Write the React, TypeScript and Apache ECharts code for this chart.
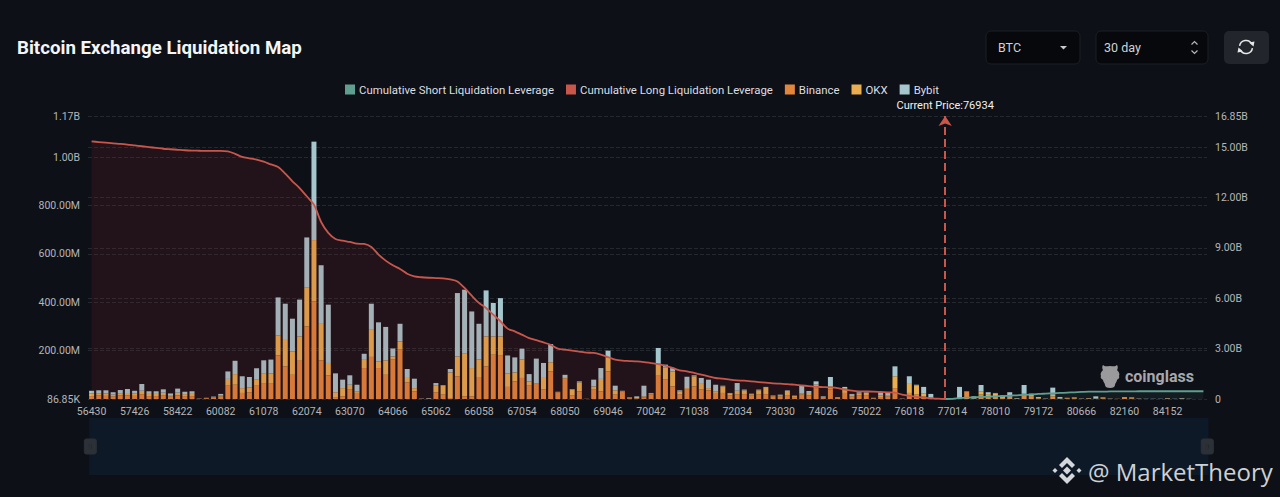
import React, { useEffect, useRef } from "react";
import * as echarts from "echarts";

const tickLabels = [56430, 57426, 58422, 60082, 61078, 62074, 63070, 64066, 65062, 66058, 67054, 68050, 69046, 70042, 71038, 72034, 73030, 74026, 75022, 76018, 77014, 78010, 79172, 80666, 82160, 84152];
const priceStep = 166;
const currentPriceIndex = 119;

// values in millions
const binance = [
  12,14,13,10,14,14,13,20,12,12,
  16,10,15,12,12,1,3,5,10,55,
  59,25,28,55,66,66,180,135,100,158,
  300,404,160,98,8,11,41,25,128,174,
  128,100,163,204,69,32,1,1,28,18,
  4,94,11,11,91,135,183,179,50,73,
  87,55,63,39,114,28,84,14,32,1,
  41,32,114,18,30,3,2,7,20,96,
  80,52,18,41,52,39,36,25,25,14,
  18,20,14,18,20,10,10,16,8,18,
  14,45,4,39,4,25,10,14,16,2,
  8,10,45,1,25,18,11,4,0,0,
  1,2,30,1,18,10,12,4,5,1,
  18,12,2,1,11,1,2,3,1,2,
  1,3,1,1,4,3,1,0,0,0,
  2,0,1,0,0,0,
];
const okx = [
  10,10,10,8,10,11,9,14,9,9,
  10,6,11,8,9,0,1,2,5,28,
  44,20,20,25,41,39,82,113,97,101,
  160,253,154,51,20,34,18,7,37,115,
  28,60,13,34,18,13,0,1,27,38,
  106,82,176,117,72,124,76,80,55,37,
  76,18,3,48,38,1,3,25,37,0,
  11,51,58,18,2,2,2,4,4,50,
  51,62,14,4,42,27,9,7,27,10,
  16,15,6,18,26,4,6,18,4,4,
  11,15,3,13,2,19,7,8,10,2,
  6,6,49,0,41,37,11,2,0,0,
  1,0,2,1,14,10,10,4,5,1,
  4,8,2,0,7,1,2,3,0,1,
  1,3,0,0,3,3,0,0,0,0,
  1,0,1,0,0,0,
];
const bybit = [
  12,12,13,10,13,16,12,28,11,11,
  14,7,17,10,11,1,1,3,6,31,
  55,49,43,47,53,58,158,146,135,152,
  208,407,239,241,78,35,39,27,22,105,
  161,138,33,73,37,39,1,2,11,2,
  14,262,265,234,148,190,138,158,75,62,
  45,30,101,62,75,1,13,2,4,0,
  28,45,28,19,2,2,7,44,1,65,
  11,14,4,47,4,21,35,27,3,1,
  32,4,2,3,4,1,2,2,2,33,
  8,13,4,39,2,6,4,6,2,1,
  14,9,41,1,28,4,28,15,1,1,
  1,48,0,9,26,8,3,6,18,2,
  36,2,4,1,29,6,1,1,1,1,
  9,1,1,0,1,1,1,1,1,1,
  1,1,2,1,0,0,
];
// values in billions
const longLeverage: (number | null)[] = [
  15.34,15.3,15.26,15.22,15.19,15.15,15.1,15.05,15.0,14.95,
  14.9,14.87,14.84,14.81,14.79,14.78,14.77,14.77,14.77,14.75,
  14.6,14.41,14.33,14.25,14.13,13.97,13.82,13.42,12.96,12.56,
  12.07,11.57,10.54,9.89,9.53,9.43,9.35,9.25,9.23,9.05,
  8.6,8.24,7.96,7.74,7.46,7.3,7.25,7.22,7.2,7.18,
  7.12,7.0,6.61,6.15,5.72,5.42,5.02,4.63,4.19,4.03,
  3.83,3.63,3.51,3.37,3.22,3.0,2.94,2.88,2.82,2.76,
  2.74,2.64,2.5,2.34,2.28,2.26,2.24,2.2,2.14,2.08,
  1.98,1.85,1.71,1.65,1.55,1.45,1.35,1.25,1.21,1.15,
  1.11,1.09,1.05,1.01,0.97,0.93,0.91,0.89,0.85,0.81,
  0.77,0.73,0.71,0.69,0.65,0.56,0.5,0.46,0.45,0.44,
  0.42,0.4,0.38,0.26,0.18,0.12,0.08,0.04,0.02,0,
  null,null,null,null,null,null,null,null,null,null,
  null,null,null,null,null,null,null,null,null,null,
  null,null,null,null,null,null,null,null,null,null,
  null,null,null,null,null,null,
];
const shortLeverage: (number | null)[] = [
  ...new Array(119).fill(null),
  0,0.01,0.05,0.08,0.1,0.12,0.14,0.16,0.18,0.2,
  0.22,0.24,0.27,0.3,0.32,0.34,0.36,0.38,0.4,0.42,
  0.44,0.44,0.44,0.45,0.45,0.45,0.45,0.46,0.46,0.46,
  0.46,0.46,0.46,0.46,0.46,0.46,0.46,
];

const categories: string[] = [];
tickLabels.forEach((t) => {
  for (let k = 0; k < 6; k++) categories.push(String(t + k * priceStep));
});

const RED = "#c9564b";
const GREEN = "#5f9f90";

const M = (a: number[]) => a.map((v) => v * 1e6);
const B = (a: (number | null)[]) => a.map((v) => (v == null ? null : v * 1e9));

const fmtLeft = (v: number) =>
  v === 0 ? "86.85K" : v >= 1e9 ? (v / 1e9).toFixed(2) + "B" : (v / 1e6).toFixed(2) + "M";
const fmtRight = (v: number) => (v === 0 ? "0" : (v / 1e9).toFixed(2) + "B");

const FONT = "Roboto, sans-serif";

echarts.graphic.registerShape(
  "coinglassLogo",
  echarts.graphic.extendPath(
    "M3 1C5 3 7 2 10 2C13 2 15 3 17 1C18 2 18 5 17 6C19 8 20 10 19 12C20 14 18 15 17 16C17 18 15 19 15 21C15 23 13 24 10 24C7 24 5 23 5 21C5 19 3 18 3 16C2 15 0 14 1 12C0 10 1 8 3 6C2 5 2 2 3 1Z",
    {}
  ) as any
);

const band = (x1: number, y1: number, x2: number, y2: number, x3: number, y3: number, x4: number, y4: number) => ({
  type: "polygon",
  shape: { points: [[x1, y1], [x2, y2], [x3, y3], [x4, y4]] },
  style: { fill: "#d3d7dc" },
});

const graphics: any[] = [
  // controls
  { type: "rect", shape: { x: 986, y: 31, width: 94, height: 33, r: 5 }, style: { fill: "#07080c", stroke: "#1b1e25" } },
  { type: "text", x: 998, y: 47, style: { text: "BTC", fill: "#d0d2d5", font: `12.5px ${FONT}`, textVerticalAlign: "middle" } },
  { type: "polygon", shape: { points: [[1060, 46], [1067, 46], [1063.5, 49.5]] }, style: { fill: "#c8cacd" } },
  { type: "rect", shape: { x: 1096, y: 31, width: 112, height: 33, r: 5 }, style: { fill: "#07080c", stroke: "#1b1e25" } },
  { type: "text", x: 1104, y: 47, style: { text: "30 day", fill: "#d0d2d5", font: `12.5px ${FONT}`, textVerticalAlign: "middle" } },
  { type: "polyline", shape: { points: [[1191.5, 44.5], [1194.5, 41.5], [1197.5, 44.5]] }, style: { stroke: "#b5b7ba", fill: "none", lineWidth: 1.2 } },
  { type: "polyline", shape: { points: [[1191.5, 50.5], [1194.5, 53.5], [1197.5, 50.5]] }, style: { stroke: "#b5b7ba", fill: "none", lineWidth: 1.2 } },
  { type: "rect", shape: { x: 1224, y: 31, width: 45, height: 33, r: 5 }, style: { fill: "#22252c" } },
  { type: "arc", shape: { cx: 1246, cy: 47, r: 6.5, startAngle: Math.PI * 1.05, endAngle: Math.PI * 1.85 }, style: { stroke: "#e6e7e9", fill: "none", lineWidth: 1.5 } },
  { type: "arc", shape: { cx: 1246, cy: 47, r: 6.5, startAngle: Math.PI * 0.05, endAngle: Math.PI * 0.85 }, style: { stroke: "#e6e7e9", fill: "none", lineWidth: 1.5 } },
  { type: "polygon", shape: { points: [[1249, 42.5], [1254.5, 41.5], [1253.5, 46.5]] }, style: { fill: "#e6e7e9" } },
  { type: "polygon", shape: { points: [[1243, 51.5], [1237.5, 52.5], [1238.5, 47.5]] }, style: { fill: "#e6e7e9" } },
  // coinglass mark
  { type: "coinglassLogo", x: 1100, y: 364, style: { fill: "#9a9a9c" } },
  { type: "text", x: 1125, y: 376, style: { text: "coinglass", fill: "#a6a8ab", font: `bold 16px ${FONT}`, textVerticalAlign: "middle" } },
  // Binance mark and handle
  band(1067, 457, 1075, 465, 1072, 468, 1067, 463),
  band(1067, 457, 1059, 465, 1062, 468, 1067, 463),
  band(1067, 484, 1075, 476, 1072, 473, 1067, 478),
  band(1067, 484, 1059, 476, 1062, 473, 1067, 478),
  band(1067, 466.5, 1071, 470.5, 1067, 474.5, 1063, 470.5),
  band(1055, 468, 1057.5, 470.5, 1055, 473, 1052.5, 470.5),
  band(1079, 468, 1081.5, 470.5, 1079, 473, 1076.5, 470.5),
  { type: "text", x: 1088, y: 471, style: { text: "@ MarketTheory", fill: "#ccd1d6", font: `24px "Open Sans", sans-serif`, textVerticalAlign: "middle" } },
].map((g) => ({ ...g, z: 100 }));

const option: any = {
  animation: false,
  backgroundColor: "#0e1017",
  title: {
    text: "Bitcoin Exchange Liquidation Map",
    left: 17,
    top: 38,
    padding: 0,
    textStyle: { color: "#f4f5f6", fontSize: 18.7, fontWeight: "bold", fontFamily: FONT },
  },
  legend: {
    left: 345,
    top: 84,
    padding: 0,
    icon: "rect",
    itemWidth: 10,
    itemHeight: 10,
    itemGap: 12,
    data: ["Cumulative Short Liquidation Leverage", "Cumulative Long Liquidation Leverage", "Binance", "OKX", "Bybit"],
    textStyle: { color: "#dcdee0", fontSize: 11.4, fontFamily: FONT, padding: [0, 0, 0, -1] },
  },
  grid: { left: 88, right: 73, top: 116, bottom: 98 },
  xAxis: {
    type: "category",
    data: categories,
    axisLine: { show: false },
    axisTick: { show: false },
    axisLabel: { interval: 5, color: "#b4b6b9", fontSize: 10.5, fontFamily: FONT, margin: 7 },
  },
  yAxis: [
    {
      type: "value",
      min: 0,
      max: 1170000000,
      interval: 200000000,
      axisLine: { show: false },
      axisTick: { show: false },
      splitLine: { show: true, lineStyle: { color: "#25282f", type: "dashed" } },
      axisLabel: { color: "#b4b6b9", fontSize: 10.5, fontFamily: FONT, margin: 8, formatter: fmtLeft },
    },
    {
      type: "value",
      min: 0,
      max: 16850000000,
      interval: 3000000000,
      position: "right",
      axisLine: { show: false },
      axisTick: { show: false },
      splitLine: { show: true, lineStyle: { color: "#25282f", type: "dashed" } },
      axisLabel: { color: "#b4b6b9", fontSize: 10.5, fontFamily: FONT, margin: 8, formatter: fmtRight },
    },
  ],
  dataZoom: [
    {
      type: "slider",
      xAxisIndex: 0,
      start: 0,
      end: 100,
      left: 88,
      right: 73,
      top: 418,
      height: 57,
      showDetail: false,
      showDataShadow: false,
      brushSelect: false,
      moveHandleSize: 0,
      borderColor: "transparent",
      backgroundColor: "#0e1928",
      fillerColor: "#0e1928",
      handleIcon:
        "path://M2 0H10A2 2 0 0 1 12 2V13A2 2 0 0 1 10 15H2A2 2 0 0 1 0 13V2A2 2 0 0 1 2 0ZM4.3 5V10H5.3V5ZM6.7 5V10H7.7V5Z",
      handleSize: 15,
      handleStyle: { color: "#2c3037", borderColor: "#2c3037" },
    },
  ],
  series: [
    {
      name: "Cumulative Short Liquidation Leverage",
      type: "line",
      yAxisIndex: 1,
      data: B(shortLeverage),
      showSymbol: false,
      smooth: 0.3,
      lineStyle: { color: GREEN, width: 1.8 },
      itemStyle: { color: GREEN },
      areaStyle: { color: "rgba(95,159,144,0.12)" },
      z: 4,
    },
    {
      name: "Cumulative Long Liquidation Leverage",
      type: "line",
      yAxisIndex: 1,
      data: B(longLeverage),
      showSymbol: false,
      smooth: 0.3,
      lineStyle: { color: RED, width: 1.8 },
      itemStyle: { color: RED },
      areaStyle: { color: "rgba(150,40,40,0.2)" },
      z: 4,
      markLine: {
        silent: true,
        symbol: ["none", "arrow"],
        symbolSize: 10,
        lineStyle: { color: RED, type: "dashed", width: 2 },
        label: { show: true, position: "end", formatter: "Current Price:76934", color: "#f0f1f2", fontSize: 11, fontFamily: FONT },
        data: [{ xAxis: categories[currentPriceIndex] }],
      },
    },
    { name: "Binance", type: "bar", stack: "liq", barWidth: 5, data: M(binance), itemStyle: { color: "#e2863c" }, z: 3 },
    { name: "OKX", type: "bar", stack: "liq", barWidth: 5, data: M(okx), itemStyle: { color: "#e8ae50" }, z: 3 },
    { name: "Bybit", type: "bar", stack: "liq", barWidth: 5, data: M(bybit), itemStyle: { color: "#a6c6cd" }, z: 3 },
  ],
  graphic: graphics,
};

export default function App() {
  const ref = useRef<HTMLDivElement>(null);
  useEffect(() => {
    document.body.style.margin = "0";
    document.body.style.background = "#0e1017";
    const chart = echarts.init(ref.current!, undefined, { renderer: "svg" });
    chart.setOption(option);
    return () => chart.dispose();
  }, []);
  return <div ref={ref} style={{ width: 1280, height: 497 }} />;
}
